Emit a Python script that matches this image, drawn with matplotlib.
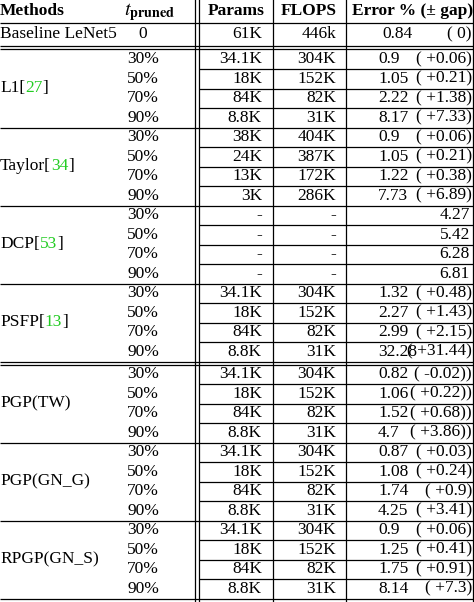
import matplotlib
matplotlib.use("Agg")
import matplotlib.pyplot as plt

methods = [("L1[", "27", "]"), ("Taylor[", "34", "]"), ("DCP[", "53", "]"),
           ("PSFP[", "13", "]"), ("PGP(TW)", "", ""), ("PGP(GN_G)", "", ""),
           ("RPGP(GN_S)", "", "")]
rates = ["30%", "50%", "70%", "90%"]
params = [["34.1K", "18K", "84K", "8.8K"], ["38K", "24K", "13K", "3K"], ["-", "-", "-", "-"],
          ["34.1K", "18K", "84K", "8.8K"], ["34.1K", "18K", "84K", "8.8K"],
          ["34.1K", "18K", "84K", "8.8K"], ["34.1K", "18K", "84K", "8.8K"]]
flops = [["304K", "152K", "82K", "31K"], ["404K", "387K", "172K", "286K"], ["-", "-", "-", "-"],
         ["304K", "152K", "82K", "31K"], ["304K", "152K", "82K", "31K"],
         ["304K", "152K", "82K", "31K"], ["304K", "152K", "82K", "31K"]]
errors = [["0.9", "1.05", "2.22", "8.17"], ["0.9", "1.05", "1.22", "7.73"],
          ["4.27", "5.42", "6.28", "6.81"], ["1.32", "2.27", "2.99", "32.28"],
          ["0.82", "1.06", "1.52", "4.7"], ["0.87", "1.08", "1.74", "4.25"],
          ["0.9", "1.25", "1.75", "8.14"]]
gaps = [["( +0.06)", "( +0.21)", "( +1.38)", "( +7.33)"],
        ["( +0.06)", "( +0.21)", "( +0.38)", "( +6.89)"],
        ["", "", "", ""],
        ["( +0.48)", "( +1.43)", "( +2.15)", "( +31.44)"],
        ["( -0.02))", "( +0.22))", "( +0.68))", "( +3.86))"],
        ["( +0.03)", "( +0.24)", "( +0.9)", "( +3.41)"],
        ["( +0.06)", "( +0.41)", "( +0.91)", "( +7.3)"]]
baseline = ["Baseline LeNet5", "0", "61K", "446k", "0.84", "( 0)"]

W, H = 474, 602
plt.rcParams["font.family"] = ["Liberation Serif", "DejaVu Serif"]
plt.rcParams["mathtext.fontset"] = "stix"
fig = plt.figure(figsize=(W / 100, H / 100), dpi=100)
ax = fig.add_axes([0, 0, 1, 1])
ax.set_xlim(0, W); ax.set_ylim(H, 0); ax.axis("off")
FS = 12.5
lw = 0.9

def hl(y, x0=0, x1=W):
    ax.plot([x0, x1], [y, y], color="black", lw=lw, solid_capstyle="butt")

def txt(x, y, s, ha="left", fontsize=FS, **kw):
    return ax.text(x, y, s, ha=ha, va="center", fontsize=fontsize, **kw)

# header
yh = 11
txt(0, yh, "Methods", weight="bold")
txt(150, yh + 1, r"$t_{\mathbf{pruned}}$", ha="center", fontsize=FS + 2)
txt(236, yh, "Params", ha="center", weight="bold")
txt(309, yh, "FLOPS", ha="center", weight="bold")
txt(473, yh, "Error % (± gap)", ha="right", weight="bold")
hl(23)

# baseline row
yb = 34
txt(0, yb, baseline[0]); txt(143, yb, baseline[1], ha="center")
txt(262, yb, baseline[2], ha="right"); txt(336, yb, baseline[3], ha="right")
txt(382, yb, baseline[4]); txt(472, yb, baseline[5], ha="right")
hl(46); hl(49)

fig.canvas.draw()
renderer = fig.canvas.get_renderer()
pitch = 19.5
y = 49.5
for g, m in enumerate(methods):
    top = y
    # method label with green citation
    x = 0
    ym = top + 2 * pitch
    for part, col in zip(m, ["black", "#22cc22", "black"]):
        if not part:
            continue
        t = txt(x, ym, part, color=col)
        bb = t.get_window_extent(renderer)
        x += bb.width
    for r in range(4):
        yc = top + (r + 0.5) * pitch
        txt(143, yc, rates[r], ha="center")
        txt(262, yc, params[g][r], ha="right")
        txt(336, yc, flops[g][r], ha="right")
        if gaps[g][r]:
            txt(378, yc, errors[g][r])
            txt(472, yc, gaps[g][r], ha="right")
        else:
            txt(470, yc, errors[g][r], ha="right")
        if r < 3:
            hl(top + (r + 1) * pitch, 199, W)
    y = top + 4 * pitch
    hl(y)
    if g == 3:
        y += 3
        hl(y)

# vertical lines
for xv in [195, 199, 273, 346, 473]:
    ax.plot([xv, xv], [0, H], color="black", lw=lw)

fig.savefig("out.png", dpi=100)
